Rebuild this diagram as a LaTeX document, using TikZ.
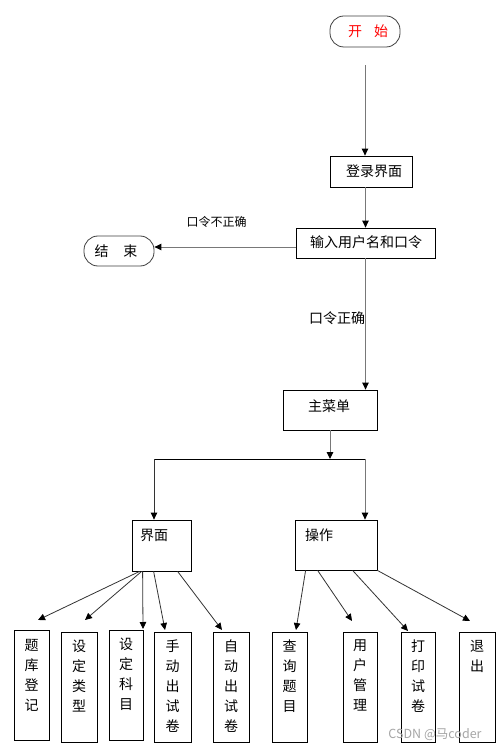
\documentclass[tikz,border=0pt]{standalone}
\usepackage{fontspec}
\newfontfamily\cjk{Noto Sans CJK SC}
\usetikzlibrary{arrows.meta}
\definecolor{lgray}{RGB}{120,120,120}
\tikzset{
  box/.style={draw=black, line width=0.8pt, inner sep=0pt, minimum width=#1},
  box/.default=40pt,
  term/.style={draw=black!75, line width=0.8pt, rounded corners=14pt, inner sep=0pt, minimum width=70pt, minimum height=31pt},
  txt/.style={font=\cjk\fontsize{14}{20}\selectfont, inner sep=0pt},
  vtxt/.style={font=\cjk\fontsize{14}{20}\selectfont, inner sep=0pt, align=center, anchor=north},
  garrow/.style={draw=lgray, line width=1pt, -{Triangle[width=6.5pt,length=7pt,fill=black,color=black]}},
  barrow/.style={draw=black!80, line width=0.8pt, -{Triangle[width=6.5pt,length=7pt,fill=black,color=black]}},
  vbox/.style={draw=black, line width=0.8pt, inner sep=0pt, minimum height=110pt, minimum width=#1},
}
\begin{document}
\begin{tikzpicture}[x=1pt,y=-1pt]
\useasboundingbox (0,0) rectangle (501,751);
\fill[white] (0,0) rectangle (501,751);

% top flow
\node[term] (start) at (365,31.5) {};
\node[txt, text=red] (starttxt) at (368,31.5) {开\hspace{12pt}始};
\node[box=82pt, minimum height=31pt] (dl) at (371,171.5) {};
\node[txt] (dltxt) at (374,171.5) {登录界面};
\node[box=139pt, minimum height=30pt] (inp) at (365.5,243) {};
\node[txt] (inptxt) at (366,242.5) {输入用户名和口令};
\node[term, minimum height=30pt] (end) at (119,251) {};
\node[txt] (endtxt) at (116,251) {结\hspace{15pt}束};
\node[box=94pt, minimum height=40pt] (menu) at (330,410) {};
\node[txt] (menutxt) at (329,406) {主菜单};

\node[txt, font=\cjk\fontsize{12}{14}\selectfont] (lbl1) at (216.5,222) {口令不正确};
\node[txt] (lbl2) at (337,318) {口令正确};

\coordinate (s1) at ([yshift=-18pt]start.south);
\draw[garrow] (s1) -- (s1 |- dl.north);
\draw[garrow] (inp.north |- dl.south) -- (inp.north);
\coordinate (lk) at (296,247);
\draw[garrow] (lk) -- (lk -| end.east);
\draw[garrow] (inp.south) -- (inp.south |- menu.north);

% split
\coordinate (sp) at (330,459);
\coordinate (spl) at (154,459);
\coordinate (spr) at (365,459);
\draw[garrow] (menu.south) -- (sp);
\draw[black, line width=0.8pt] (spl) -- (spr);

\node[box=59pt, minimum height=51pt] (jm) at (161.5,545.5) {};
\node[txt, anchor=west] (jmtxt) at (140,535) {界面};
\node[box=82pt, minimum height=50pt] (cz) at (336,545) {};
\node[txt, anchor=west] (cztxt) at (305,535.5) {操作};

\draw[barrow] (spl) -- (spl |- jm.north);
\draw[garrow] (spr) -- (spr |- cz.north);

% bottom boxes
\node[vbox=35pt] (b1) at (31.5,685) {};
\node[vtxt] (t1) at (31.5,639) {题\\库\\登\\记};
\node[vbox=36pt] (b2) at (79,687) {};
\node[vtxt] (t2) at (79,640) {设\\定\\类\\型};
\node[vbox=34pt] (b3) at (126,685) {};
\node[vtxt] (t3) at (126,638) {设\\定\\科\\目};
\node[vbox=37pt] (b4) at (172.5,687) {};
\node[vtxt] (t4) at (172.5,640) {手\\动\\出\\试\\卷};
\node[vbox=36pt] (b5) at (231,687) {};
\node[vtxt] (t5) at (231,640) {自\\动\\出\\试\\卷};

\node[vbox=35pt] (r1) at (289.5,687) {};
\node[vtxt] (u1) at (289.5,640) {查\\询\\题\\目};
\node[vbox=34pt] (r2) at (360,687) {};
\node[vtxt] (u2) at (360,640) {用\\户\\管\\理};
\node[vbox=34pt] (r3) at (418,687) {};
\node[vtxt] (u3) at (418,640) {打\\印\\试\\卷};
\node[vbox=36pt] (r4) at (477,687) {};
\node[vtxt] (u4) at (477,640) {退\\出};

% arrows from 界面
\coordinate (e1) at (38,620);
\coordinate (e2) at (85,620);
\coordinate (e3) at (143,629);
\coordinate (e4) at (165,630);
\coordinate (e5) at (222,630);
\draw[barrow] ([xshift=8pt]jm.south west) -- (e1);
\draw[barrow] ([xshift=10pt]jm.south west) -- (e2);
\draw[barrow] ([xshift=11pt]jm.south west) -- (e3);
\draw[barrow] ([xshift=22pt]jm.south west) -- (e4);
\draw[barrow] ([xshift=46pt]jm.south west) -- (e5);

% arrows from 操作
\coordinate (f1) at (296,630);
\coordinate (f2) at (352,621);
\coordinate (f3) at (408,631);
\coordinate (f4) at (470,621);
\draw[barrow] ([xshift=11pt]cz.south west) -- (f1);
\draw[barrow] ([xshift=23pt]cz.south west) -- (f2);
\draw[barrow] ([xshift=58pt]cz.south west) -- (f3);
\draw[barrow] (cz.south east) -- (f4);

% watermark
\node[font=\cjk\fontsize{12.5}{14}\selectfont, text=black!35, inner sep=0pt] (wm) at (435,735) {CSDN @马coder};
\end{tikzpicture}
\end{document}
